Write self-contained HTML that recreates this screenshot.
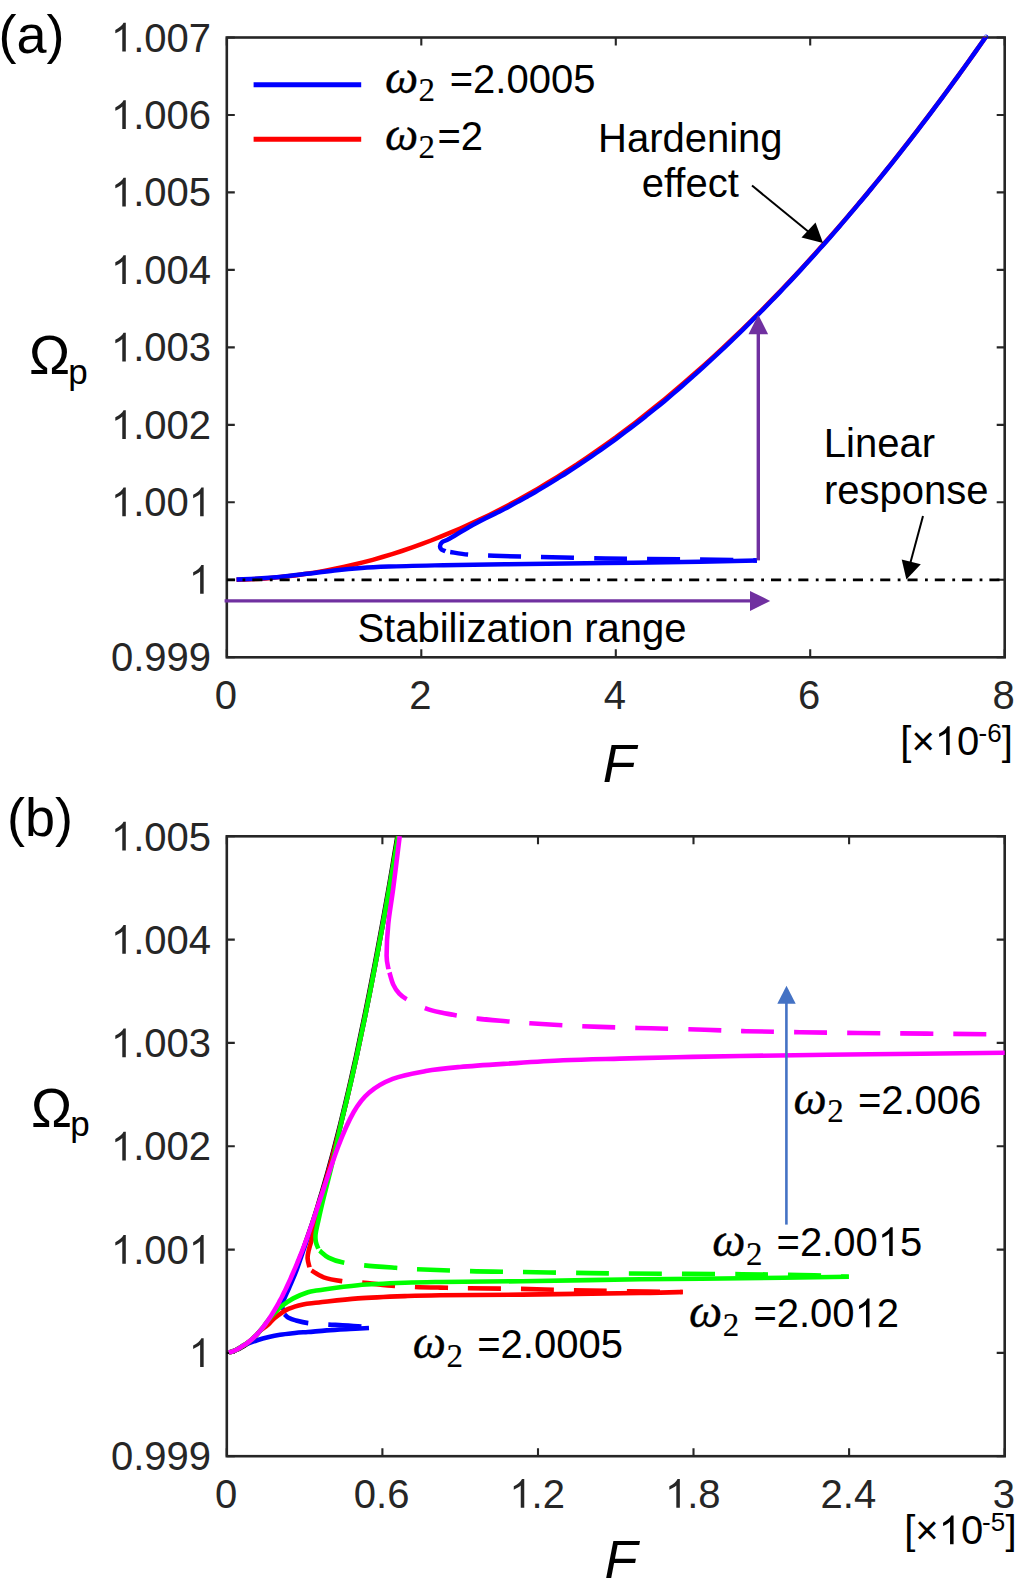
<!DOCTYPE html>
<html><head><meta charset="utf-8"><style>
html,body{margin:0;padding:0;background:#fff;}
svg{display:block;}
text{font-family:"Liberation Sans", sans-serif;}
.tk{font-size:40px;fill:#262626;}
.an{font-size:40px;fill:#000;}
.om{font-family:"Liberation Serif", serif;font-style:italic;font-size:47px;fill:#000;stroke:#000;stroke-width:0.35px;}
.sb{font-family:"Liberation Serif", serif;font-size:33px;fill:#000;stroke:#000;stroke-width:0.15px;}
.pl{font-size:54px;fill:#000;}
.om2{font-size:55px;fill:#000;}
.ps{font-size:35px;fill:#000;}
.fl{font-size:54px;font-style:italic;fill:#000;}
.sp{font-size:26px;fill:#000;}
</style></head><body>
<svg width="1025" height="1579" viewBox="0 0 1025 1579">
<rect width="1025" height="1579" fill="#fff"/>
<rect x="226.8" y="37.5" width="777.9" height="619.8" fill="none" stroke="#262626" stroke-width="2.6"/>
<path d="M226.8,657.3v-8M226.8,37.5v8M421.3,657.3v-8M421.3,37.5v8M615.8,657.3v-8M615.8,37.5v8M810.2,657.3v-8M810.2,37.5v8M1004.7,657.3v-8M1004.7,37.5v8M226.8,37.5h8M1004.7,37.5h-8M226.8,115.0h8M1004.7,115.0h-8M226.8,192.4h8M1004.7,192.4h-8M226.8,269.9h8M1004.7,269.9h-8M226.8,347.4h8M1004.7,347.4h-8M226.8,424.9h8M1004.7,424.9h-8M226.8,502.3h8M1004.7,502.3h-8M226.8,579.8h8M1004.7,579.8h-8M226.8,657.3h8M1004.7,657.3h-8" stroke="#262626" stroke-width="2.1" fill="none"/>
<text x="110.90" y="51.50" class="tk"> .007</text><path transform="translate(110.90,51.50) scale(0.01953,-0.01953)" d="M763 0L583 0L583 1147Q518 1085 413 1023Q309 961 226 930L226 1104Q376 1175 488 1276Q600 1377 647 1472L763 1472Z" fill="#262626"/>
<text x="110.90" y="128.97" class="tk"> .006</text><path transform="translate(110.90,128.97) scale(0.01953,-0.01953)" d="M763 0L583 0L583 1147Q518 1085 413 1023Q309 961 226 930L226 1104Q376 1175 488 1276Q600 1377 647 1472L763 1472Z" fill="#262626"/>
<text x="110.90" y="206.45" class="tk"> .005</text><path transform="translate(110.90,206.45) scale(0.01953,-0.01953)" d="M763 0L583 0L583 1147Q518 1085 413 1023Q309 961 226 930L226 1104Q376 1175 488 1276Q600 1377 647 1472L763 1472Z" fill="#262626"/>
<text x="110.90" y="283.92" class="tk"> .004</text><path transform="translate(110.90,283.92) scale(0.01953,-0.01953)" d="M763 0L583 0L583 1147Q518 1085 413 1023Q309 961 226 930L226 1104Q376 1175 488 1276Q600 1377 647 1472L763 1472Z" fill="#262626"/>
<text x="110.90" y="361.40" class="tk"> .003</text><path transform="translate(110.90,361.40) scale(0.01953,-0.01953)" d="M763 0L583 0L583 1147Q518 1085 413 1023Q309 961 226 930L226 1104Q376 1175 488 1276Q600 1377 647 1472L763 1472Z" fill="#262626"/>
<text x="110.90" y="438.88" class="tk"> .002</text><path transform="translate(110.90,438.88) scale(0.01953,-0.01953)" d="M763 0L583 0L583 1147Q518 1085 413 1023Q309 961 226 930L226 1104Q376 1175 488 1276Q600 1377 647 1472L763 1472Z" fill="#262626"/>
<text x="110.90" y="516.35" class="tk"> .00 </text><path transform="translate(110.90,516.35) scale(0.01953,-0.01953)" d="M763 0L583 0L583 1147Q518 1085 413 1023Q309 961 226 930L226 1104Q376 1175 488 1276Q600 1377 647 1472L763 1472Z" fill="#262626"/><path transform="translate(188.75,516.35) scale(0.01953,-0.01953)" d="M763 0L583 0L583 1147Q518 1085 413 1023Q309 961 226 930L226 1104Q376 1175 488 1276Q600 1377 647 1472L763 1472Z" fill="#262626"/>
<text x="188.75" y="593.82" class="tk"> </text><path transform="translate(188.75,593.82) scale(0.01953,-0.01953)" d="M763 0L583 0L583 1147Q518 1085 413 1023Q309 961 226 930L226 1104Q376 1175 488 1276Q600 1377 647 1472L763 1472Z" fill="#262626"/>
<text x="110.90" y="671.30" class="tk">0.999</text>
<text x="214.68" y="709.00" class="tk">0</text>
<text x="409.15" y="709.00" class="tk">2</text>
<text x="603.63" y="709.00" class="tk">4</text>
<text x="798.10" y="709.00" class="tk">6</text>
<text x="992.58" y="709.00" class="tk">8</text>
<path d="M236.5,579.7 L246.2,579.5 L256.0,579.0 L265.7,578.4 L275.4,577.6 L285.1,576.6 L294.9,575.5 L304.6,574.1 L314.3,572.6 L324.0,570.9 L333.8,569.0 L343.5,567.0 L353.2,564.8 L362.9,562.4 L372.7,559.8 L382.4,557.0 L392.1,554.1 L401.8,551.0 L411.6,547.7 L421.3,544.2 L431.0,540.5 L440.7,536.7 L450.4,532.7 L460.2,528.5 L469.9,524.1 L479.6,519.6 L489.3,514.9 L499.1,510.0 L508.8,504.9 L518.5,499.6 L528.2,494.2 L538.0,488.6 L547.7,482.8 L557.4,476.8 L567.1,470.7 L576.9,464.4 L586.6,457.8 L596.3,451.2 L606.0,444.3 L615.8,437.3 L625.5,430.0 L635.2,422.7 L644.9,415.1 L654.6,407.3 L664.4,399.4 L674.1,391.3 L683.8,383.0 L693.5,374.5 L703.3,365.9 L713.0,357.1 L722.7,348.1 L732.4,338.9 L742.2,329.5 L751.9,320.0 L761.6,310.3 L771.3,300.4 L781.1,290.3 L790.8,280.1 L800.5,269.7 L810.2,259.1 L819.9,248.3 L829.7,237.3 L839.4,226.2 L849.1,214.9 L858.8,203.4 L868.6,191.7 L878.3,179.9 L888.0,167.8 L897.7,155.6 L907.5,143.2 L917.2,130.7 L926.9,117.9 L936.6,105.0 L946.4,91.9 L956.1,78.6 L965.8,65.2 L975.5,51.6 L985.3,37.7 L985.4,37.5" stroke="#ff0000" stroke-width="4.5" fill="none"/>
<path d="M236.5,579.6 C240.1,579.4 250.8,579.0 258.0,578.6 C265.2,578.2 271.4,577.8 279.6,577.0 C287.8,576.2 297.9,574.9 307.0,573.8 C316.1,572.7 325.2,571.5 334.3,570.5 C343.4,569.5 352.5,568.6 361.6,567.9 C370.7,567.2 375.2,567.0 388.9,566.5 C402.5,566.0 424.1,565.6 443.5,565.2 C462.9,564.8 478.1,564.6 505.0,564.2 C531.9,563.8 572.5,563.4 605.0,563.0 C637.5,562.6 674.7,562.1 700.0,561.7 C725.3,561.3 747.5,560.8 757.0,560.6" stroke="#0000ff" stroke-width="4.5" fill="none"/>
<path d="M450.2,552.0 C453.1,552.4 461.4,554.0 467.8,554.6 C474.2,555.2 479.4,555.3 488.3,555.6 C497.2,555.9 501.4,556.1 521.0,556.6 C540.5,557.1 575.8,557.9 605.6,558.4 C635.4,558.9 676.6,559.3 700.0,559.6 C723.4,559.9 736.5,559.9 746.0,560.1 C755.5,560.3 755.2,560.5 757.0,560.6" stroke="#0000ff" stroke-width="4.5" fill="none" stroke-dasharray="33 20" stroke-dashoffset="14.9"/>
<path d="M445.4,551.3 C444.8,551.0 442.5,550.4 441.6,549.6 C440.7,548.8 440.0,547.7 440.0,546.5 C440.0,545.3 440.2,543.7 441.8,542.4 C443.4,541.1 444.8,541.2 449.3,538.7 C453.8,536.2 462.3,530.8 468.8,527.2 C475.3,523.6 483.3,519.5 488.3,516.9 C493.3,514.3 495.7,513.5 499.1,511.8 C502.5,510.1 505.5,508.4 508.8,506.7 C512.0,505.0 515.3,503.2 518.5,501.4 C521.8,499.7 525.0,497.8 528.2,496.0 C531.5,494.2 534.7,492.3 538.0,490.4 C541.2,488.5 544.4,486.6 547.7,484.6 C550.9,482.6 554.2,480.6 557.4,478.6 C560.6,476.6 563.9,474.6 567.1,472.5 C570.4,470.4 573.6,468.3 576.9,466.2 C580.1,464.0 583.3,461.8 586.6,459.6 C589.8,457.4 593.1,455.2 596.3,453.0 C599.5,450.7 602.8,448.4 606.0,446.1 C609.3,443.8 612.5,441.4 615.8,439.1 C619.0,436.7 622.2,434.3 625.5,431.8 C628.7,429.4 632.0,426.9 635.2,424.5 C638.4,422.0 641.7,419.4 644.9,416.9 C648.2,414.3 651.4,411.7 654.6,409.1 C657.9,406.5 661.1,403.9 664.4,401.2 C667.6,398.5 670.9,395.7 674.1,392.9 C677.3,390.1 680.6,387.3 683.8,384.5 C687.1,381.6 690.3,378.8 693.5,375.9 C696.8,373.0 700.0,370.1 703.3,367.1 C706.5,364.2 709.7,361.2 713.0,358.2 C716.2,355.2 719.5,352.1 722.7,349.1 C726.0,346.0 729.2,342.9 732.4,339.8 C735.7,336.7 738.9,333.5 742.2,330.4 C745.4,327.2 748.6,324.0 751.9,320.7 C755.1,317.5 758.4,314.2 761.6,311.0 C764.8,307.7 768.1,304.4 771.3,301.0 C774.6,297.7 777.8,294.3 781.1,290.9 C784.3,287.5 787.5,284.0 790.8,280.6 C794.0,277.1 797.3,273.6 800.5,270.1 C803.7,266.6 807.0,263.0 810.2,259.5 C813.5,255.9 816.7,252.3 819.9,248.6 C823.2,245.0 826.4,241.3 829.7,237.7 C832.9,234.0 836.2,230.2 839.4,226.5 C842.6,222.7 845.9,219.0 849.1,215.1 C852.4,211.3 855.6,207.5 858.8,203.6 C862.1,199.8 865.3,195.9 868.6,191.9 C871.8,188.0 875.0,184.0 878.3,180.1 C881.5,176.1 884.8,172.1 888.0,168.0 C891.3,164.0 894.5,159.9 897.7,155.8 C901.0,151.7 904.2,147.5 907.5,143.4 C910.7,139.2 913.9,135.0 917.2,130.8 C920.4,126.6 923.7,122.3 926.9,118.1 C930.2,113.8 933.4,109.5 936.6,105.1 C939.9,100.8 943.1,96.4 946.4,92.0 C949.6,87.6 952.8,83.2 956.1,78.7 C959.3,74.3 962.6,69.8 965.8,65.3 C969.0,60.7 972.3,56.2 975.5,51.6 C978.8,47.0 983.6,40.2 985.3,37.8 C986.9,35.5 985.4,37.6 985.4,37.5" stroke="#0000ff" stroke-width="4.5" fill="none"/>
<path d="M226.8,579.8H1003.7" stroke="#000" stroke-width="2.7" stroke-dasharray="10.1 7.4 2.8 7.0" stroke-dashoffset="1.8" fill="none"/>
<path d="M758.3,560.4V332" stroke="#7030a0" stroke-width="3.4" fill="none"/>
<path d="M748.5,334.2L768.1,334.2L758.3,314.8Z" fill="#7030a0"/>
<path d="M224.6,600.9H752" stroke="#7030a0" stroke-width="3.4" fill="none"/>
<path d="M750,590.9L750,610.9L770.2,600.9Z" fill="#7030a0"/>
<path d="M253.6,84.8H361.2" stroke="#0000ff" stroke-width="5"/>
<path d="M253.6,139.3H361.2" stroke="#ff0000" stroke-width="5"/>
<text x="384.9" y="92.6" class="om">ω</text>
<text x="418.6" y="101.3" class="sb">2</text>
<text x="449.70" y="92.60" class="an">=2.0005</text>
<text x="384.9" y="149.6" class="om">ω</text>
<text x="418.6" y="158.3" class="sb">2</text>
<text x="437.50" y="149.60" class="an">=2</text>
<text x="690.3" y="152" text-anchor="middle" class="an">Hardening</text>
<text x="690.3" y="197.3" text-anchor="middle" class="an">effect</text>
<path d="M752,185.6L810,233" stroke="#000" stroke-width="2" fill="none"/>
<path d="M823,243L801.5,237.5L815.5,222.5Z" fill="#000"/>
<text x="823.8" y="457.3" class="an">Linear</text>
<text x="824" y="503.6" class="an">response</text>
<path d="M923,516L909.5,566" stroke="#000" stroke-width="2" fill="none"/>
<path d="M906.4,579.5L901.7,559.6L920.8,564.2Z" fill="#000"/>
<text x="522" y="641.7" text-anchor="middle" class="an">Stabilization range</text>
<text x="-1.6" y="52.5" class="pl">(a)</text>
<text x="29" y="373.7" class="om2">Ω</text><text x="68.25" y="383.65" class="ps">p</text>
<text x="602.7" y="781.6" class="fl">F</text>
<text x="900.30" y="755.10" class="an">[× 0</text><path transform="translate(934.77,755.10) scale(0.01953,-0.01953)" d="M763 0L583 0L583 1147Q518 1085 413 1023Q309 961 226 930L226 1104Q376 1175 488 1276Q600 1377 647 1472L763 1472Z" fill="#000"/>
<text x="978.6" y="742" class="sp">-6</text><text x="1001.8" y="755.1" class="an">]</text>
<rect x="226.8" y="836.3" width="777.9" height="619.9" fill="none" stroke="#262626" stroke-width="2.6"/>
<path d="M226.8,1456.2v-8M226.8,836.3v8M382.4,1456.2v-8M382.4,836.3v8M538.0,1456.2v-8M538.0,836.3v8M693.5,1456.2v-8M693.5,836.3v8M849.1,1456.2v-8M849.1,836.3v8M1004.7,1456.2v-8M1004.7,836.3v8M226.8,836.3h8M1004.7,836.3h-8M226.8,939.6h8M1004.7,939.6h-8M226.8,1042.9h8M1004.7,1042.9h-8M226.8,1146.2h8M1004.7,1146.2h-8M226.8,1249.6h8M1004.7,1249.6h-8M226.8,1352.9h8M1004.7,1352.9h-8M226.8,1456.2h8M1004.7,1456.2h-8" stroke="#262626" stroke-width="2.1" fill="none"/>
<text x="110.90" y="850.50" class="tk"> .005</text><path transform="translate(110.90,850.50) scale(0.01953,-0.01953)" d="M763 0L583 0L583 1147Q518 1085 413 1023Q309 961 226 930L226 1104Q376 1175 488 1276Q600 1377 647 1472L763 1472Z" fill="#262626"/>
<text x="110.90" y="953.82" class="tk"> .004</text><path transform="translate(110.90,953.82) scale(0.01953,-0.01953)" d="M763 0L583 0L583 1147Q518 1085 413 1023Q309 961 226 930L226 1104Q376 1175 488 1276Q600 1377 647 1472L763 1472Z" fill="#262626"/>
<text x="110.90" y="1057.13" class="tk"> .003</text><path transform="translate(110.90,1057.13) scale(0.01953,-0.01953)" d="M763 0L583 0L583 1147Q518 1085 413 1023Q309 961 226 930L226 1104Q376 1175 488 1276Q600 1377 647 1472L763 1472Z" fill="#262626"/>
<text x="110.90" y="1160.45" class="tk"> .002</text><path transform="translate(110.90,1160.45) scale(0.01953,-0.01953)" d="M763 0L583 0L583 1147Q518 1085 413 1023Q309 961 226 930L226 1104Q376 1175 488 1276Q600 1377 647 1472L763 1472Z" fill="#262626"/>
<text x="110.90" y="1263.77" class="tk"> .00 </text><path transform="translate(110.90,1263.77) scale(0.01953,-0.01953)" d="M763 0L583 0L583 1147Q518 1085 413 1023Q309 961 226 930L226 1104Q376 1175 488 1276Q600 1377 647 1472L763 1472Z" fill="#262626"/><path transform="translate(188.75,1263.77) scale(0.01953,-0.01953)" d="M763 0L583 0L583 1147Q518 1085 413 1023Q309 961 226 930L226 1104Q376 1175 488 1276Q600 1377 647 1472L763 1472Z" fill="#262626"/>
<text x="188.75" y="1367.08" class="tk"> </text><path transform="translate(188.75,1367.08) scale(0.01953,-0.01953)" d="M763 0L583 0L583 1147Q518 1085 413 1023Q309 961 226 930L226 1104Q376 1175 488 1276Q600 1377 647 1472L763 1472Z" fill="#262626"/>
<text x="110.90" y="1470.40" class="tk">0.999</text>
<text x="214.88" y="1507.80" class="tk">0</text>
<text x="353.78" y="1507.80" class="tk">0.6</text>
<text x="509.36" y="1507.80" class="tk"> .2</text><path transform="translate(509.36,1507.80) scale(0.01953,-0.01953)" d="M763 0L583 0L583 1147Q518 1085 413 1023Q309 961 226 930L226 1104Q376 1175 488 1276Q600 1377 647 1472L763 1472Z" fill="#262626"/>
<text x="664.94" y="1507.80" class="tk"> .8</text><path transform="translate(664.94,1507.80) scale(0.01953,-0.01953)" d="M763 0L583 0L583 1147Q518 1085 413 1023Q309 961 226 930L226 1104Q376 1175 488 1276Q600 1377 647 1472L763 1472Z" fill="#262626"/>
<text x="820.52" y="1507.80" class="tk">2.4</text>
<text x="992.78" y="1507.80" class="tk">3</text>
<path d="M226.8,1352.9 L229.3,1352.8 L231.9,1352.4 L234.4,1351.8 L237.0,1351.0 L239.5,1349.9 L242.0,1348.6 L244.6,1347.1 L247.1,1345.3 L249.7,1343.3 L252.2,1341.0 L254.7,1338.5 L257.3,1335.8 L259.8,1332.8 L262.4,1329.6 L264.9,1326.2 L267.4,1322.5 L270.0,1318.6 L272.5,1314.4 L275.1,1310.0 L277.6,1305.4 L280.1,1300.5 L282.7,1295.4 L285.2,1290.0 L287.8,1284.5 L290.3,1278.6 L292.8,1272.6 L295.4,1266.3 L297.9,1259.7 L300.5,1253.0 L303.0,1246.0 L305.6,1238.7 L308.2,1231.2 L310.8,1223.5 L313.4,1215.6 L316.0,1207.4 L318.5,1198.9 L321.1,1190.2 L323.7,1181.3 L326.3,1172.2 L328.9,1162.8 L331.5,1153.2 L334.1,1143.3 L336.7,1133.2 L339.3,1122.9 L341.9,1112.3 L344.5,1101.5 L347.1,1090.5 L349.7,1079.2 L352.3,1067.6 L354.9,1055.9 L357.4,1043.9 L360.0,1031.6 L362.6,1019.2 L365.2,1006.5 L367.8,993.5 L370.4,980.3 L373.0,966.9 L375.6,953.2 L378.2,939.3 L380.8,925.2 L383.4,910.8 L386.0,896.2 L388.6,881.4 L391.2,866.3 L393.7,851.0 L396.2,836.3" stroke="#000" stroke-width="2.2" fill="none"/>
<path d="M228.9,1352.5 C229.3,1352.4 230.6,1352.0 231.5,1351.7 C232.3,1351.5 233.2,1351.1 234.1,1350.8 C234.9,1350.4 235.8,1350.0 236.7,1349.6 C237.5,1349.1 238.4,1348.7 239.2,1348.1 C240.1,1347.6 241.0,1347.0 241.8,1346.5 C242.7,1345.9 241.9,1345.9 244.4,1344.9 C247.0,1343.8 253.1,1341.5 257.2,1340.2 C261.3,1338.9 265.1,1337.9 268.9,1337.0 C272.7,1336.1 275.6,1335.5 280.0,1334.8 C284.4,1334.1 290.4,1333.5 295.0,1333.0 C299.6,1332.5 302.6,1332.4 307.9,1332.0 C313.2,1331.6 319.8,1330.9 326.8,1330.4 C333.8,1329.9 343.0,1329.4 350.0,1329.0 C357.0,1328.6 365.8,1328.2 369.0,1328.0" stroke="#0000ff" stroke-width="4.6" fill="none"/>
<path d="M284.5,1314.2 C285.2,1314.8 286.6,1316.8 288.5,1317.8 C290.4,1318.8 292.2,1319.5 295.6,1320.4 C299.0,1321.3 303.4,1322.5 308.9,1323.2 C314.4,1323.9 322.8,1324.3 328.4,1324.6 C334.0,1324.9 336.8,1324.9 342.4,1325.2 C348.0,1325.5 357.6,1326.1 362.0,1326.6 C366.4,1327.1 367.8,1327.8 369.0,1328.0" stroke="#0000ff" stroke-width="4.6" fill="none" stroke-dasharray="33 20" stroke-dashoffset="7"/>
<path d="M283.0,1310.0 C282.9,1308.9 281.6,1306.9 282.6,1303.2 C283.6,1299.5 286.7,1293.5 289.0,1288.0 C291.3,1282.5 294.0,1277.0 296.6,1270.0 C299.2,1263.0 302.6,1252.4 304.9,1246.0 C307.1,1239.5 308.3,1236.3 310.1,1231.2 C311.8,1226.2 313.5,1220.9 315.3,1215.6 C317.0,1210.2 318.7,1204.6 320.4,1198.9 C322.2,1193.2 323.9,1187.4 325.6,1181.3 C327.4,1175.3 329.1,1169.1 330.8,1162.8 C332.5,1156.5 334.3,1150.0 336.0,1143.3 C337.7,1136.7 339.5,1129.9 341.2,1122.9 C342.9,1115.9 344.6,1108.8 346.4,1101.5 C348.1,1094.2 349.8,1086.8 351.6,1079.2 C353.3,1071.6 355.0,1063.8 356.8,1055.9 C358.5,1048.0 360.2,1039.9 361.9,1031.6 C363.7,1023.4 365.4,1015.0 367.1,1006.5 C368.9,997.9 370.6,989.2 372.3,980.3 C374.0,971.5 375.8,962.4 377.5,953.2 C379.2,944.1 381.0,934.7 382.7,925.2 C384.4,915.7 386.1,906.0 387.9,896.2 C389.6,886.4 392.2,871.3 393.1,866.3" stroke="#0000ff" stroke-width="4.6" fill="none"/>
<path d="M228.9,1352.5 C229.3,1352.4 230.6,1352.0 231.5,1351.7 C232.3,1351.5 233.2,1351.1 234.1,1350.8 C234.9,1350.4 235.8,1350.0 236.7,1349.6 C237.5,1349.1 238.4,1348.7 239.2,1348.1 C240.1,1347.6 241.0,1347.0 241.8,1346.5 C242.7,1345.9 243.6,1345.4 244.4,1344.9 C245.3,1344.3 246.2,1343.8 247.0,1343.2 C247.9,1342.5 248.8,1341.9 249.6,1341.2 C250.5,1340.5 251.3,1339.7 252.2,1339.0 C253.1,1338.2 253.9,1337.4 254.8,1336.5 C255.7,1335.7 256.5,1334.8 257.4,1333.8 C258.3,1332.9 258.2,1332.4 260.0,1330.9 C261.8,1329.4 265.4,1327.1 268.0,1324.8 C270.6,1322.5 272.3,1319.8 275.7,1317.2 C279.1,1314.6 283.8,1311.0 288.4,1308.9 C292.9,1306.8 297.9,1305.5 303.0,1304.4 C308.1,1303.3 309.8,1303.5 319.0,1302.5 C328.2,1301.5 343.7,1299.5 358.0,1298.4 C372.3,1297.3 391.2,1296.6 404.9,1296.1 C418.6,1295.6 420.4,1295.5 440.0,1295.2 C459.6,1295.0 488.9,1295.0 522.2,1294.6 C555.5,1294.2 613.2,1293.4 640.0,1293.0 C666.8,1292.6 675.7,1292.2 682.8,1292.0" stroke="#ff0000" stroke-width="4.6" fill="none"/>
<path d="M398.1,836.3 C397.2,841.3 395.2,853.9 393.1,866.3 C390.9,878.7 387.9,896.3 385.3,910.8 C382.7,925.3 380.1,939.5 377.5,953.2 C374.9,967.0 372.3,980.4 369.7,993.5 C367.1,1006.6 364.5,1019.3 361.9,1031.6 C359.3,1044.0 356.8,1056.0 354.2,1067.6 C351.6,1079.3 349.0,1090.6 346.4,1101.5 C343.8,1112.4 341.2,1123.0 338.6,1133.2 C336.0,1143.4 333.4,1153.3 330.8,1162.8 C328.2,1172.3 325.6,1181.5 323.0,1190.2 C320.4,1199.0 316.8,1208.6 315.3,1215.6 C313.7,1222.5 314.7,1226.3 313.6,1232.2 C312.5,1238.1 309.6,1246.3 308.6,1250.7 C307.6,1255.1 307.5,1255.7 307.6,1258.5 C307.8,1261.3 309.2,1265.8 309.5,1267.3" stroke="#ff0000" stroke-width="4.6" fill="none"/>
<path d="M311.5,1270.4 C313.5,1271.6 318.7,1275.5 323.7,1277.3 C328.7,1279.1 335.3,1280.2 341.7,1281.1 C348.1,1282.0 353.2,1281.8 362.0,1282.6 C370.8,1283.4 386.0,1285.3 394.7,1286.0 C403.4,1286.7 406.8,1286.6 414.3,1286.9 C421.9,1287.2 431.2,1287.4 440.0,1287.6 C448.8,1287.8 453.8,1288.1 467.2,1288.3 C480.6,1288.5 502.9,1288.6 520.5,1288.9 C538.1,1289.2 555.0,1289.9 572.7,1290.3 C590.4,1290.7 608.1,1290.9 626.5,1291.2 C644.9,1291.5 673.4,1291.9 682.8,1292.0" stroke="#ff0000" stroke-width="4.6" fill="none" stroke-dasharray="33 20" stroke-dashoffset="0"/>
<path d="M228.9,1352.5 C229.3,1352.4 230.6,1352.0 231.5,1351.7 C232.3,1351.5 233.2,1351.1 234.1,1350.8 C234.9,1350.4 235.8,1350.0 236.7,1349.6 C237.5,1349.1 238.4,1348.7 239.2,1348.1 C240.1,1347.6 241.0,1347.0 241.8,1346.5 C242.7,1345.9 243.6,1345.4 244.4,1344.9 C245.3,1344.3 246.2,1343.8 247.0,1343.2 C247.9,1342.5 248.8,1341.9 249.6,1341.2 C250.5,1340.5 251.3,1339.7 252.2,1339.0 C253.1,1338.2 253.9,1337.4 254.8,1336.5 C255.7,1335.7 256.5,1334.8 257.4,1333.8 C258.3,1332.9 259.1,1331.9 260.0,1330.9 C260.9,1329.9 261.7,1328.9 262.6,1327.8 C263.4,1326.7 264.3,1325.5 265.2,1324.4 C266.0,1323.2 266.1,1322.7 267.8,1320.7 C269.4,1318.7 272.6,1315.0 275.0,1312.5 C277.4,1310.0 278.9,1308.1 282.0,1305.8 C285.1,1303.5 289.0,1300.7 293.3,1298.4 C297.6,1296.1 303.6,1293.6 307.9,1292.2 C312.2,1290.8 310.6,1291.4 319.0,1290.2 C327.4,1289.0 343.7,1286.4 358.0,1285.2 C372.3,1284.0 391.2,1283.3 404.9,1282.8 C418.6,1282.3 420.4,1282.3 440.0,1282.0 C459.6,1281.7 488.9,1281.7 522.2,1281.2 C555.5,1280.8 603.3,1279.8 640.0,1279.3 C676.7,1278.8 707.4,1278.7 742.2,1278.3 C777.0,1277.9 831.0,1277.0 848.8,1276.8" stroke="#00ff00" stroke-width="4.6" fill="none"/>
<path d="M398.1,836.3 C397.2,841.3 394.8,856.3 393.1,866.3 C391.3,876.3 389.6,886.4 387.9,896.2 C386.1,906.0 384.4,915.7 382.7,925.2 C381.0,934.7 379.2,944.1 377.5,953.2 C375.8,962.4 374.0,971.5 372.3,980.3 C370.6,989.2 368.9,997.9 367.1,1006.5 C365.4,1015.0 363.7,1023.4 361.9,1031.6 C360.2,1039.9 358.5,1048.0 356.8,1055.9 C355.0,1063.8 353.3,1071.6 351.6,1079.2 C349.8,1086.8 348.1,1094.2 346.4,1101.5 C344.6,1108.8 343.5,1112.7 341.2,1122.9 C338.9,1133.1 335.4,1149.8 332.4,1162.7 C329.4,1175.6 325.6,1189.7 323.1,1200.0 C320.6,1210.3 318.8,1218.7 317.5,1224.4 C316.2,1230.1 315.9,1231.2 315.6,1234.1 C315.3,1237.0 315.4,1239.6 315.9,1242.0 C316.3,1244.4 317.9,1247.5 318.3,1248.6" stroke="#00ff00" stroke-width="4.6" fill="none"/>
<path d="M319.6,1250.7 C321.1,1251.8 324.6,1255.6 328.5,1257.6 C332.4,1259.6 337.2,1261.3 343.2,1262.6 C349.2,1263.9 355.7,1264.5 364.4,1265.4 C373.1,1266.3 386.9,1267.2 395.6,1267.8 C404.3,1268.4 404.4,1268.7 416.7,1269.2 C429.0,1269.8 451.9,1270.6 469.5,1271.1 C487.1,1271.6 504.6,1271.7 522.2,1272.0 C539.8,1272.3 557.3,1272.7 574.9,1272.9 C592.5,1273.2 599.8,1273.3 627.6,1273.5 C655.5,1273.7 713.3,1274.0 742.0,1274.2 C770.7,1274.5 782.2,1274.6 800.0,1275.0 C817.8,1275.4 840.7,1276.5 848.8,1276.8" stroke="#00ff00" stroke-width="4.6" fill="none" stroke-dasharray="33 20" stroke-dashoffset="5"/>
<path d="M228.9,1352.5 C229.4,1352.3 230.9,1351.9 232.0,1351.6 C233.0,1351.2 234.1,1350.8 235.1,1350.3 C236.1,1349.9 237.2,1349.3 238.2,1348.8 C239.2,1348.2 240.3,1347.5 241.3,1346.8 C242.4,1346.2 243.4,1345.6 244.4,1344.9 C245.5,1344.2 246.5,1343.5 247.5,1342.8 C248.6,1342.0 249.6,1341.2 250.7,1340.3 C251.7,1339.5 252.7,1338.5 253.8,1337.5 C254.8,1336.5 255.8,1335.5 256.9,1334.4 C257.9,1333.3 259.0,1332.1 260.0,1330.9 C261.0,1329.7 262.1,1328.4 263.1,1327.1 C264.1,1325.8 265.2,1324.4 266.2,1322.9 C267.3,1321.5 268.3,1320.0 269.3,1318.4 C270.4,1316.9 271.4,1315.3 272.4,1313.6 C273.5,1311.9 274.5,1310.2 275.5,1308.4 C276.6,1306.6 277.6,1304.8 278.7,1302.9 C279.7,1301.0 280.7,1299.0 281.8,1297.0 C282.8,1295.0 283.8,1292.9 284.9,1290.8 C285.9,1288.6 287.0,1286.5 288.0,1284.2 C289.0,1282.0 290.1,1279.7 291.1,1277.3 C292.1,1275.0 293.2,1272.5 294.2,1270.1 C295.3,1267.7 296.3,1265.3 297.3,1262.8 C298.4,1260.3 299.4,1257.8 300.4,1255.2 C301.5,1252.6 302.5,1249.9 303.6,1247.2 C304.6,1244.5 305.6,1241.7 306.7,1238.9 C307.7,1236.1 308.7,1233.2 309.8,1230.2 C310.8,1227.3 311.9,1224.3 312.9,1221.2 C313.9,1218.2 311.8,1224.3 316.0,1211.9 C320.2,1199.5 331.7,1163.7 338.0,1147.0 C344.3,1130.3 348.5,1121.1 353.7,1112.0 C358.9,1102.9 362.8,1097.9 369.3,1092.4 C375.8,1086.9 383.3,1082.4 392.7,1078.8 C402.1,1075.2 414.7,1073.0 425.9,1071.0 C437.1,1069.0 446.6,1068.2 460.0,1067.0 C473.4,1065.8 489.4,1064.8 506.6,1063.7 C523.8,1062.6 544.3,1061.2 563.2,1060.3 C582.1,1059.4 600.9,1059.1 619.8,1058.6 C638.7,1058.1 656.4,1057.6 676.4,1057.2 C696.4,1056.8 707.7,1056.5 740.0,1056.0 C772.3,1055.5 825.9,1054.8 870.0,1054.3 C914.1,1053.8 982.2,1053.0 1004.7,1052.8" stroke="#ff00ff" stroke-width="4.6" fill="none"/>
<path d="M399.7,836.3 C398.6,845.0 395.1,873.9 393.2,888.5 C391.3,903.1 389.4,912.5 388.3,923.7 C387.2,934.9 386.6,948.0 386.6,955.6 C386.6,963.2 388.2,967.0 388.5,969.3" stroke="#ff00ff" stroke-width="4.6" fill="none"/>
<path d="M389.5,972.5 C390.1,974.6 391.8,981.4 393.4,984.9 C395.0,988.4 397.0,991.3 399.3,993.7 C401.6,996.1 402.7,997.1 407.1,999.5 C411.5,1001.9 419.9,1006.1 425.6,1008.3 C431.3,1010.5 435.8,1011.4 441.2,1012.6 C446.6,1013.8 451.8,1014.7 457.8,1015.7 C463.8,1016.7 468.5,1017.6 477.3,1018.6 C486.1,1019.6 501.7,1020.8 510.5,1021.6 C519.3,1022.4 521.1,1022.7 530.0,1023.3 C538.9,1023.9 552.4,1024.7 564.1,1025.3 C575.8,1025.9 585.5,1026.4 600.0,1026.9 C614.5,1027.4 633.4,1027.8 650.9,1028.3 C668.4,1028.8 689.4,1029.2 704.7,1029.7 C720.0,1030.2 726.9,1030.7 742.8,1031.1 C758.7,1031.5 773.8,1031.8 800.0,1032.2 C826.2,1032.6 868.9,1033.1 900.0,1033.4 C931.1,1033.7 972.4,1034.1 986.9,1034.2" stroke="#ff00ff" stroke-width="4.6" fill="none" stroke-dasharray="33 20" stroke-dashoffset="0"/>
<path d="M786.4,1224.6V1002" stroke="#4472c4" stroke-width="2.6" fill="none"/>
<path d="M777.3,1003.8L795.7,1003.8L786.5,985.8Z" fill="#4472c4"/>
<text x="793.5" y="1113.6" class="om">ω</text>
<text x="827.2" y="1122.3" class="sb">2</text>
<text x="857.90" y="1113.60" class="an">=2.006</text>
<text x="712.2" y="1256.0" class="om">ω</text>
<text x="745.9" y="1264.7" class="sb">2</text>
<text x="776.60" y="1256.00" class="an">=2.00 5</text><path transform="translate(877.81,1256.00) scale(0.01953,-0.01953)" d="M763 0L583 0L583 1147Q518 1085 413 1023Q309 961 226 930L226 1104Q376 1175 488 1276Q600 1377 647 1472L763 1472Z" fill="#000"/>
<text x="689.0" y="1327.2" class="om">ω</text>
<text x="722.7" y="1335.9" class="sb">2</text>
<text x="753.40" y="1327.20" class="an">=2.00 2</text><path transform="translate(854.61,1327.20) scale(0.01953,-0.01953)" d="M763 0L583 0L583 1147Q518 1085 413 1023Q309 961 226 930L226 1104Q376 1175 488 1276Q600 1377 647 1472L763 1472Z" fill="#000"/>
<text x="412.8" y="1358.3" class="om">ω</text>
<text x="446.5" y="1367.0" class="sb">2</text>
<text x="477.20" y="1358.30" class="an">=2.0005</text>
<text x="7" y="836" class="pl">(b)</text>
<text x="31" y="1126.6" class="om2">Ω</text><text x="70.25" y="1136.05" class="ps">p</text>
<text x="604.5" y="1578.1" class="fl">F</text>
<text x="904.20" y="1544.20" class="an">[× 0</text><path transform="translate(938.67,1544.20) scale(0.01953,-0.01953)" d="M763 0L583 0L583 1147Q518 1085 413 1023Q309 961 226 930L226 1104Q376 1175 488 1276Q600 1377 647 1472L763 1472Z" fill="#000"/>
<text x="982.1" y="1530.9" class="sp">-5</text><text x="1005.6" y="1544.2" class="an">]</text>
</svg></body></html>
